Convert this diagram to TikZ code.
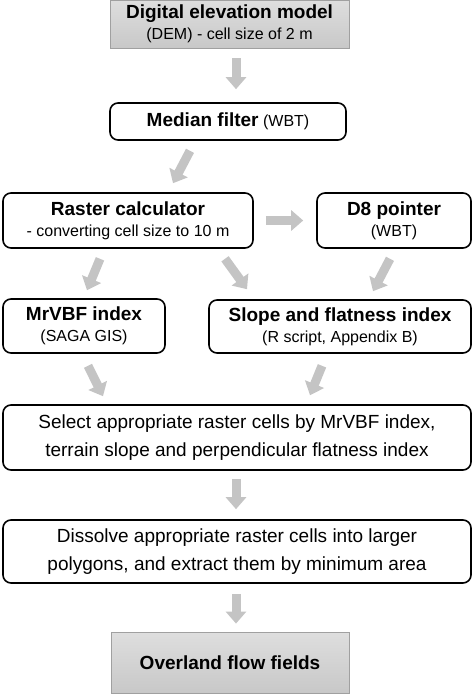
\documentclass[tikz,border=0pt]{standalone}
\usepackage{fontspec}
\setmainfont{Liberation Sans}
\usepackage{tikz}
\usetikzlibrary{arrows.meta}
\definecolor{boxgray}{RGB}{200, 200, 200}
\definecolor{lightgray}{RGB}{222, 222, 222}
\definecolor{edgegray}{RGB}{160, 160, 160}
\definecolor{arrowgray}{RGB}{196, 196, 196}
\newcommand{\boxtitle}[1]{{\fontsize{19}{21}\selectfont\bfseries #1}}
\tikzset{
  procbox/.style  = {shape=rectangle, rounded corners=8pt,
                     draw, line width=1.6pt, align=center, inner sep=0pt,
                     font=\fontsize{16}{21}\selectfont},
  bigbox/.style   = {procbox, font=\fontsize{19}{28}\selectfont},
  databox/.style  = {shape=rectangle, draw=edgegray, line width=0.8pt,
                     align=center, inner sep=0pt,
                     top color=lightgray, bottom color=boxgray,
                     font=\fontsize{16}{21}\selectfont},
  flow/.style     = {draw=arrowgray, line width=9pt,
                     -{Triangle[length=12pt,width=20pt]}}
}
\begin{document}
\begin{tikzpicture}[x=1pt, y=-1pt]
  \useasboundingbox (0,0) rectangle (474,694);
  % boxes
  \node [databox, minimum width=239pt, minimum height=48pt] (dem) at (229.5,24)
    {\boxtitle{Digital elevation model}\\(DEM) - cell size of 2 m};
  \node [procbox, minimum width=236pt, minimum height=37pt] (median) at (228,121.5)
    {\boxtitle{Median filter} (WBT)};
  \node [procbox, minimum width=250pt, minimum height=55pt] (raster) at (128,220.5)
    {\boxtitle{Raster calculator}\\- converting cell size to 10 m};
  \node [procbox, minimum width=154pt, minimum height=55pt] (d8) at (394,220.5)
    {\boxtitle{D8 pointer}\\(WBT)};
  \node [procbox, minimum width=162pt, minimum height=54pt] (mrvbf) at (84,326)
    {\boxtitle{MrVBF index}\\(SAGA GIS)};
  \node [procbox, minimum width=262pt, minimum height=53pt] (slope) at (340,326.5)
    {\boxtitle{Slope and flatness index}\\(R script, Appendix B)};
  \node [bigbox, minimum width=468pt, minimum height=65pt] (select) at (237,437.5)
    {Select appropriate raster cells by MrVBF index,\\terrain slope and perpendicular flatness index};
  \node [bigbox, minimum width=468pt, minimum height=63pt] (dissolve) at (237,551.5)
    {Dissolve appropriate raster cells into larger\\polygons, and extract them by minimum area};
  \node [databox, minimum width=238pt, minimum height=61pt] (overland) at (230,662.5)
    {\boxtitle{Overland flow fields}};
  % arrows
  \draw [flow] ([xshift=6.5pt,yshift=-10pt]dem.south) -- ([xshift=8pt,yshift=13pt]median.north);
  \draw [flow] ([xshift=-38pt,yshift=-10pt]median.south) -- ([xshift=45pt,yshift=9pt]raster.north);
  \draw [flow] ([xshift=12pt]raster.east) -- ([xshift=-13pt]d8.west);
  \draw [flow] ([xshift=-28pt,yshift=-10pt]raster.south) -- ([xshift=3pt,yshift=8pt]mrvbf.north);
  \draw [flow] ([xshift=97pt,yshift=-10pt]raster.south) -- ([xshift=-93pt,yshift=10pt]slope.north);
  \draw [flow] ([xshift=-4pt,yshift=-10pt]d8.south) -- ([xshift=33pt,yshift=8pt]slope.north);
  \draw [flow] ([xshift=4pt,yshift=-12pt]mrvbf.south) -- ([xshift=-134pt,yshift=8pt]select.north);
  \draw [flow] ([xshift=-18pt,yshift=-12pt]slope.south) -- ([xshift=73pt,yshift=9pt]select.north);
  \draw [flow] ([xshift=-1pt,yshift=-8pt]select.south) -- ([xshift=-1pt,yshift=10pt]dissolve.north);
  \draw [flow] ([xshift=-1pt,yshift=-10pt]dissolve.south) -- ([xshift=6pt,yshift=8pt]overland.north);
\end{tikzpicture}
\end{document}
